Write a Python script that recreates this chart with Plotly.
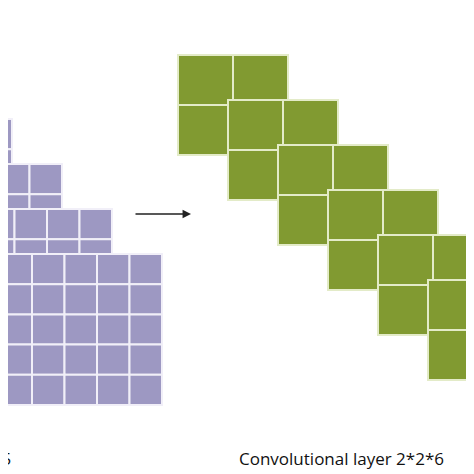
import plotly.graph_objects as go

# purple input stack: 5x5 grids, shifted per layer
in_layers = 4
in_cols, in_rows = 5, 5
in_cell_w, in_cell_h = 32.5, 30.2
in_front_x, in_front_y = -0.5, 254   # front layer top-left
layer_dx, layer_dy = 50, 45

# green conv stack: 2x2 grids
conv_layers = 6
conv_cols, conv_rows = 2, 2
conv_cell_w, conv_cell_h = 55, 50
conv_first_x, conv_first_y = 178, 55
conv_dx, conv_dy = 50, 45

purple = "#9d98c2"
green = "#819a31"

shapes = []

# purple: back layers first (top-left), front last
for k in range(in_layers - 1, -1, -1):
    x0 = in_front_x - k * layer_dx
    y0 = in_front_y - k * layer_dy
    for r in range(in_rows):
        for c in range(in_cols):
            shapes.append(dict(type="rect",
                               x0=x0 + c * in_cell_w, x1=x0 + (c + 1) * in_cell_w,
                               y0=y0 + r * in_cell_h, y1=y0 + (r + 1) * in_cell_h,
                               fillcolor=purple, line=dict(color="#f1eff8", width=2)))

for k in range(conv_layers):
    x0 = conv_first_x + k * conv_dx
    y0 = conv_first_y + k * conv_dy
    for r in range(conv_rows):
        for c in range(conv_cols):
            shapes.append(dict(type="rect",
                               x0=x0 + c * conv_cell_w, x1=x0 + (c + 1) * conv_cell_w,
                               y0=y0 + r * conv_cell_h, y1=y0 + (r + 1) * conv_cell_h,
                               fillcolor=green, line=dict(color="#e3ebc8", width=2)))

fig = go.Figure()
fig.add_trace(go.Scatter(x=[0], y=[0], mode="markers", marker_opacity=0, showlegend=False, hoverinfo="skip"))

fig.add_annotation(x=191, y=214, ax=134, ay=214, xref="x", yref="y", axref="x", ayref="y",
                   showarrow=True, arrowhead=2, arrowsize=1.3, arrowwidth=1.3, arrowcolor="#222", text="")

fig.add_annotation(x=13, y=458, xref="x", yref="y", text="Input 5*5", showarrow=False,
                   xanchor="right", font=dict(size=17, color="#111", family="Open Sans"))
fig.add_annotation(x=237, y=458, xref="x", yref="y", text="Convolutional layer 2*2*6", showarrow=False,
                   xanchor="left", font=dict(size=17, color="#111", family="Open Sans"))

fig.update_layout(
    shapes=shapes,
    width=474, height=474,
    margin=dict(l=0, r=0, t=0, b=0),
    plot_bgcolor="white", paper_bgcolor="white",
    xaxis=dict(range=[8, 482], visible=False, fixedrange=True),
    yaxis=dict(range=[482, 8], visible=False, fixedrange=True),
)

fig.write_html("out.html")
